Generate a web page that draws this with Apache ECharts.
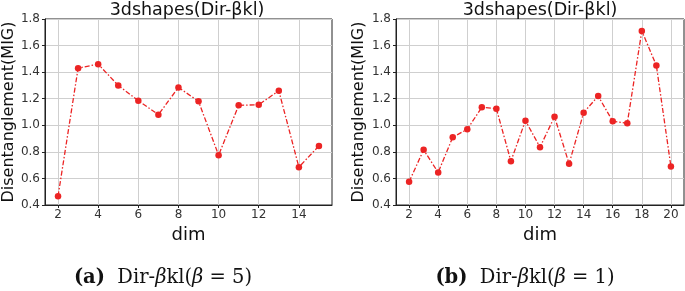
<!DOCTYPE html>
<html>
<head>
<meta charset="utf-8">
<script src="https://cdn.jsdelivr.net/npm/echarts@6/dist/echarts.min.js"></script>
<style>html,body{margin:0;padding:0;background:#fff}#c{width:685px;height:291px}</style>
</head>
<body>
<div id="c"></div>
<script>
const dimsA = [2,3,4,5,6,7,8,9,10,11,12,13,14,15];
const migA = [0.465,1.43,1.46,1.30,1.185,1.08,1.285,1.18,0.775,1.15,1.155,1.26,0.685,0.845];
const dimsB = [2,3,4,5,6,7,8,9,10,11,12,13,14,15,16,17,18,19,20];
const migB = [0.575,0.815,0.645,0.91,0.97,1.135,1.125,0.73,1.035,0.835,1.065,0.71,1.095,1.22,1.03,1.015,1.71,1.45,0.69];
const xTicksA = [2,4,6,8,10,12,14];
const xTicksB = [2,4,6,8,10,12,14,16,18,20];
const titleText = '3dshapes(Dir-βkl)';
const yName = 'Disentanglement(MIG)';
const xName = 'dim';

const font = 'DejaVu Sans';
const red = '#ec2424';
function xAx(idx, min, max, ticks){
  return {
    type:'value', gridIndex:idx, min:min, max:max,
    name:xName, nameLocation:'middle', nameGap:14,
    nameTextStyle:{fontFamily:font,fontSize:18,color:'#111'},
    axisLine:{show:true,onZero:false,lineStyle:{color:'#222',width:1}},
    axisTick:{show:true,customValues:ticks,length:3,lineStyle:{color:'#222'}},
    axisLabel:{customValues:ticks,fontFamily:font,fontSize:12,color:'#333',margin:4},
    splitLine:{show:true,lineStyle:{color:'#cfcfcf',width:1}}
  };
}
function yAx(idx, gap){
  return {
    type:'value', gridIndex:idx, min:0.4, max:1.8, interval:0.2,
    name:yName, nameLocation:'middle', nameGap:gap, nameRotate:90,
    nameTextStyle:{fontFamily:font,fontSize:16,color:'#111'},
    axisLine:{show:true,onZero:false,lineStyle:{color:'#222',width:1}},
    axisTick:{show:true,length:3,lineStyle:{color:'#222'}},
    axisLabel:{fontFamily:font,fontSize:12,color:'#333',margin:5,formatter:v=>v.toFixed(1)},
    splitLine:{show:true,lineStyle:{color:'#cfcfcf',width:1}}
  };
}
function ser(idx, xs, ys){
  return {
    type:'line', xAxisIndex:idx, yAxisIndex:idx,
    data: xs.map((x,i)=>[x, ys[i]]),
    symbol:'circle', symbolSize:6.5, showSymbol:true,
    itemStyle:{color:red},
    lineStyle:{color:red,width:1.3,type:[5,2,1.5,2]},
    animation:false
  };
}
const cf = 'DejaVu Serif';
const cs = 19.5;
const capStyle = {
  fontFamily:cf, fontSize:cs, fontWeight:'normal', color:'#111',
  rich:{
    n:{fontFamily:cf,fontSize:cs,fontWeight:'normal',color:'#111'},
    b:{fontFamily:cf,fontSize:cs,fontWeight:'bold',color:'#111'},
    i:{fontFamily:cf,fontSize:cs,fontStyle:'italic',fontWeight:'normal',color:'#111'}
  }
};
const option = {
  animation:false,
  backgroundColor:'#fff',
  title:[
    {text:titleText,left:187,top:1,textAlign:'center',textStyle:{fontFamily:font,fontSize:17.5,fontWeight:'normal',color:'#111'},padding:0},
    {text:titleText,left:540,top:1,textAlign:'center',textStyle:{fontFamily:font,fontSize:17.5,fontWeight:'normal',color:'#111'},padding:0},
    {text:'{b|(a)}{n|  Dir-}{i|β}{n|kl(}{i|β}{n| = 5)}',left:163,top:268,textAlign:'center',textStyle:capStyle,padding:0},
    {text:'{b|(b)}{n|  Dir-}{i|β}{n|kl(}{i|β}{n| = 1)}',left:525,top:268,textAlign:'center',textStyle:capStyle,padding:0}
  ],
  grid:[
    {left:42,right:353,top:19,bottom:86,show:true,borderColor:'#222',borderWidth:1,backgroundColor:'transparent'},
    {left:396,right:1,top:19,bottom:86,show:true,borderColor:'#222',borderWidth:1,backgroundColor:'transparent'}
  ],
  xAxis:[xAx(0,1.35,15.65,xTicksA), xAx(1,1.1,20.9,xTicksB)],
  yAxis:[yAx(0,27), yAx(1,29)],
  series:[ser(0,dimsA,migA), ser(1,dimsB,migB)]
};
const chart = echarts.init(document.getElementById('c'),null,{renderer:'canvas'});
chart.setOption(option);
</script>
</body>
</html>
